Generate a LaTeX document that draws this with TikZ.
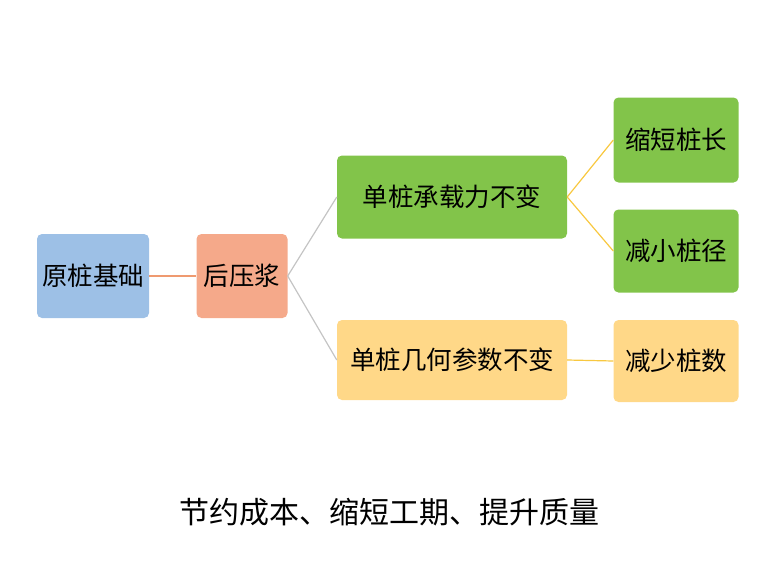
\documentclass[tikz,border=0pt]{standalone}
\usepackage{fontspec}
\setmainfont{Noto Sans CJK SC}
\begin{document}
\begin{tikzpicture}[x=1pt,y=-1pt,
  box/.style={rounded corners=5pt, minimum height=84pt, inner sep=0pt, font=\fontsize{25.5}{25.5}\selectfont, text=black},
  conn/.style={line width=1.2pt}]
\useasboundingbox (0,0) rectangle (760,570);
\definecolor{cblue}{HTML}{9DC0E6}
\definecolor{corange}{HTML}{F5A98A}
\definecolor{cgreen}{HTML}{82C44A}
\definecolor{cyellow}{HTML}{FFD888}
\definecolor{lgray}{HTML}{C4C4C4}
\definecolor{lyel}{HTML}{F8C840}
\definecolor{lor}{HTML}{EF9A70}
\node[box, fill=cblue, minimum width=112pt] (a) at (93,276) {原桩基础};
\node[box, fill=corange, minimum width=91pt] (b) at (242,276) {后压浆};
\node[box, fill=cgreen, minimum width=230pt, minimum height=83pt] (c) at (452,197) {单桩承载力不变};
\node[box, fill=cyellow, minimum width=230pt, minimum height=80pt] (d) at (452,360) {单桩几何参数不变};
\node[box, fill=cgreen, minimum width=125pt, minimum height=85pt] (e) at (676,140) {缩短桩长};
\node[box, fill=cgreen, minimum width=125pt, minimum height=83pt] (f) at (676,251) {减小桩径};
\node[box, fill=cyellow, minimum width=125pt, minimum height=82pt] (g) at (676,361) {减少桩数};
\draw[conn, lor] (a.east) -- (b.west);
\draw[conn, lgray] (b.east) -- (c.west);
\draw[conn, lgray] (b.east) -- (d.west);
\draw[conn, lyel] (c.east) -- (e.west);
\draw[conn, lyel] (c.east) -- (f.west);
\draw[conn, lyel] (d.east) -- (g.west);
\node[font=\fontsize{30}{30}\selectfont] (t) at (389,512) {节约成本、缩短工期、提升质量};
\end{tikzpicture}
\end{document}
